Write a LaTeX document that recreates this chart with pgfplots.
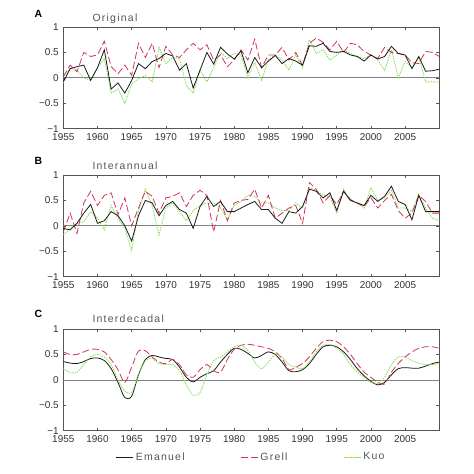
\documentclass[border=0pt]{standalone}
\usepackage{fontspec}
\setmainfont{Liberation Sans}
\usepackage{pgfplots}
\pgfplotsset{compat=1.18}
\usepackage{pgfplotstable}
\definecolor{emc}{HTML}{1A1A1A}
\definecolor{grc}{HTML}{D2325A}
\definecolor{kuc}{HTML}{8EE05A}
\definecolor{axc}{HTML}{555555}
\definecolor{txc}{HTML}{333333}
\newfontfamily\spaced[LetterSpace=12]{Liberation Sans}

% year Emanuel Grell Kuo
\pgfplotstableread{
year em gr ku
1955 -0.08 0.02 -0.10
1956 0.18 0.25 0.20
1957 0.22 0.12 0.15
1958 0.25 0.50 0.00
1959 -0.05 0.42 -0.05
1960 0.20 0.45 0.20
1961 0.55 0.72 0.38
1962 -0.22 0.22 -0.30
1963 -0.10 0.08 -0.22
1964 -0.30 0.25 -0.50
1965 -0.05 0.05 -0.12
1966 0.28 0.68 -0.02
1967 0.18 0.40 0.05
1968 0.32 0.68 -0.08
1969 0.38 0.20 0.60
1970 0.48 0.62 0.28
1971 0.43 0.45 0.40
1972 0.15 0.40 0.38
1973 0.28 0.55 -0.15
1974 -0.20 0.68 -0.30
1975 0.15 0.55 0.15
1976 0.50 0.65 -0.08
1977 0.27 0.35 0.20
1978 0.60 0.45 0.50
1979 0.47 0.22 0.38
1980 0.37 0.35 0.48
1981 0.53 0.55 0.45
1982 0.10 0.35 0.00
1983 0.40 0.76 0.30
1984 0.20 0.20 -0.05
1985 0.33 0.45 0.35
1986 0.44 0.45 0.45
1987 0.28 0.60 0.35
1988 0.38 0.35 0.15
1989 0.33 0.50 0.45
1990 0.25 0.25 0.20
1991 0.63 0.68 0.75
1992 0.62 0.78 0.48
1993 0.68 0.70 0.55
1994 0.52 0.55 0.35
1995 0.50 0.72 0.45
1996 0.52 0.50 0.55
1997 0.45 0.68 0.48
1998 0.42 0.65 0.42
1999 0.33 0.52 0.38
2000 0.45 0.45 0.45
2001 0.37 0.38 0.35
2002 0.42 0.60 0.15
2003 0.62 0.50 0.55
2004 0.48 0.48 0.00
2005 0.45 0.45 0.32
2006 0.18 0.30 0.20
2007 0.42 0.28 0.40
2008 0.13 0.52 -0.08
2009 0.14 0.50 -0.08
2010 0.17 0.42 -0.08
}\tabA

\pgfplotstableread{
year em gr ku
1955 -0.05 -0.12 -0.18
1956 -0.08 0.25 -0.05
1957 0.05 -0.15 0.05
1958 0.25 0.45 0.08
1959 0.42 0.68 0.28
1960 0.05 0.40 0.15
1961 0.10 0.60 -0.08
1962 0.28 0.65 0.40
1963 0.20 0.22 0.15
1964 0.00 0.55 -0.05
1965 -0.30 0.00 -0.48
1966 0.20 0.35 0.30
1967 0.50 0.68 0.72
1968 0.45 0.58 0.40
1969 0.20 0.25 -0.18
1970 0.40 0.55 0.35
1971 0.48 0.58 0.45
1972 0.32 0.65 0.28
1973 0.25 0.38 0.10
1974 -0.05 0.60 0.30
1975 0.38 0.70 0.40
1976 0.58 0.60 0.45
1977 0.38 -0.12 0.45
1978 0.48 0.50 0.35
1979 0.28 0.10 0.12
1980 0.28 0.45 0.40
1981 0.35 0.50 0.48
1982 0.42 0.52 0.60
1983 0.48 0.72 0.58
1984 0.32 0.35 0.45
1985 0.32 0.60 0.45
1986 0.15 0.15 0.35
1987 0.05 0.25 0.30
1988 0.28 0.35 0.30
1989 0.25 0.40 0.45
1990 0.38 0.05 0.35
1991 0.72 0.85 0.75
1992 0.68 0.72 0.70
1993 0.55 0.45 0.60
1994 0.65 0.60 0.58
1995 0.30 0.42 0.25
1996 0.68 0.68 0.72
1997 0.50 0.52 0.50
1998 0.45 0.45 0.45
1999 0.40 0.38 0.35
2000 0.60 0.55 0.75
2001 0.48 0.35 0.50
2002 0.58 0.50 0.55
2003 0.78 0.62 0.70
2004 0.48 0.30 0.35
2005 0.42 0.15 0.35
2006 0.12 0.25 0.28
2007 0.60 0.60 0.62
2008 0.28 0.48 0.35
2009 0.28 0.25 0.15
2010 0.28 0.25 0.10
}\tabB

\pgfplotstableread{
year em gr ku
1955 0.36 0.55 0.22
1956 0.33 0.50 0.14
1957 0.32 0.50 0.15
1958 0.36 0.55 0.30
1959 0.42 0.60 0.45
1960 0.43 0.60 0.50
1961 0.38 0.55 0.45
1962 0.22 0.40 0.30
1963 -0.05 0.20 0.00
1964 -0.35 -0.05 -0.22
1965 -0.32 0.25 -0.25
1966 0.10 0.57 0.10
1967 0.40 0.57 0.38
1968 0.48 0.45 0.42
1969 0.45 0.35 0.32
1970 0.42 0.32 0.30
1971 0.40 0.40 0.30
1972 0.25 0.30 0.18
1973 0.05 0.10 -0.10
1974 -0.04 0.05 -0.30
1975 0.05 0.20 -0.25
1976 0.12 0.30 0.10
1977 0.18 0.18 0.38
1978 0.35 0.15 0.45
1979 0.50 0.40 0.55
1980 0.62 0.60 0.65
1981 0.60 0.68 0.68
1982 0.52 0.70 0.58
1983 0.43 0.68 0.35
1984 0.48 0.65 0.22
1985 0.55 0.62 0.35
1986 0.50 0.55 0.50
1987 0.35 0.42 0.45
1988 0.18 0.20 0.30
1989 0.16 0.25 0.25
1990 0.20 0.32 0.22
1991 0.32 0.45 0.35
1992 0.50 0.62 0.55
1993 0.65 0.75 0.68
1994 0.68 0.78 0.70
1995 0.65 0.75 0.62
1996 0.55 0.65 0.50
1997 0.40 0.50 0.30
1998 0.22 0.32 0.15
1999 0.08 0.15 0.05
2000 -0.03 0.05 -0.05
2001 -0.10 -0.05 -0.07
2002 -0.05 -0.08 0.05
2003 0.10 0.15 0.30
2004 0.22 0.32 0.45
2005 0.24 0.45 0.45
2006 0.23 0.55 0.38
2007 0.23 0.62 0.33
2008 0.27 0.65 0.30
2009 0.32 0.65 0.30
2010 0.35 0.62 0.32
}\tabC

\pgfplotsset{
  panel/.style={
    width=376bp, height=101.7bp, scale only axis,
    xmin=1955, xmax=2010, ymin=-1, ymax=1,
    xtick={1955,1960,...,2005},
    ytick={-1,-0.5,0,0.5,1},
    yticklabels={−1,−0.5,0,0.5,1},
    /pgf/number format/1000 sep={},
    /pgf/number format/assume math mode=true,
    axis line style={axc, line width=0.8pt},
    tick style={axc, line width=0.6pt},
    tick align=inside, major tick length=3bp,
    ticklabel style={font=\fontsize{10}{11}\selectfont, text=txc},
    xticklabel style={yshift=-4bp, inner sep=1bp},
    yticklabel style={xshift=-1bp},
    clip=true,
  },
  em/.style={emc, line width=0.8pt},
  gr/.style={grc, line width=0.8pt, dash pattern=on 7bp off 3bp},
  ku/.style={kuc, line width=0.9pt, dash pattern=on 1.5bp off 1bp},
}

\begin{document}
\begin{tikzpicture}
\path[use as bounding box] (0,0) rectangle (474bp,474bp);

\begin{axis}[panel, at={(63.3bp,345.3bp)}, anchor=south west]
\addplot[gray, line width=0.7pt] coordinates {(1955,0) (2010,0)};
\addplot[ku] table[x=year,y=ku] {\tabA};
\addplot[gr] table[x=year,y=gr] {\tabA};
\addplot[em] table[x=year,y=em] {\tabA};
\end{axis}

\begin{axis}[panel, at={(63.3bp,197.3bp)}, anchor=south west]
\addplot[gray, line width=0.7pt] coordinates {(1955,0) (2010,0)};
\addplot[ku] table[x=year,y=ku] {\tabB};
\addplot[gr] table[x=year,y=gr] {\tabB};
\addplot[em] table[x=year,y=em] {\tabB};
\end{axis}

\begin{axis}[panel, at={(63.3bp,43.3bp)}, anchor=south west,
  legend style={at={(0.5,-0.26)}, anchor=center, draw=none, fill=none,
    legend columns=3, font=\spaced\fontsize{10.5}{11}\selectfont, text=axc,
    /tikz/every even column/.append style={column sep=54bp}},
  legend cell align=left]
\addplot[gray, line width=0.7pt, forget plot] coordinates {(1955,0) (2010,0)};
\addplot[em, smooth] table[x=year,y=em] {\tabC};
\addplot[gr, smooth] table[x=year,y=gr] {\tabC};
\addplot[ku, smooth] table[x=year,y=ku] {\tabC};
\legend{Emanuel, Grell, Kuo}
\end{axis}

\node[anchor=base west, font=\bfseries\fontsize{10.5}{11}\selectfont] at (31bp,456bp) {A};
\node[anchor=base west, font=\spaced\fontsize{10.5}{11}\selectfont, text=axc] at (89bp,452bp) {Original};
\node[anchor=base west, font=\bfseries\fontsize{10.5}{11}\selectfont] at (31bp,309bp) {B};
\node[anchor=base west, font=\spaced\fontsize{10.5}{11}\selectfont, text=axc] at (89bp,304bp) {Interannual};
\node[anchor=base west, font=\bfseries\fontsize{10.5}{11}\selectfont] at (31bp,156bp) {C};
\node[anchor=base west, font=\spaced\fontsize{10.5}{11}\selectfont, text=axc] at (89bp,151bp) {Interdecadal};
\end{tikzpicture}
\end{document}
